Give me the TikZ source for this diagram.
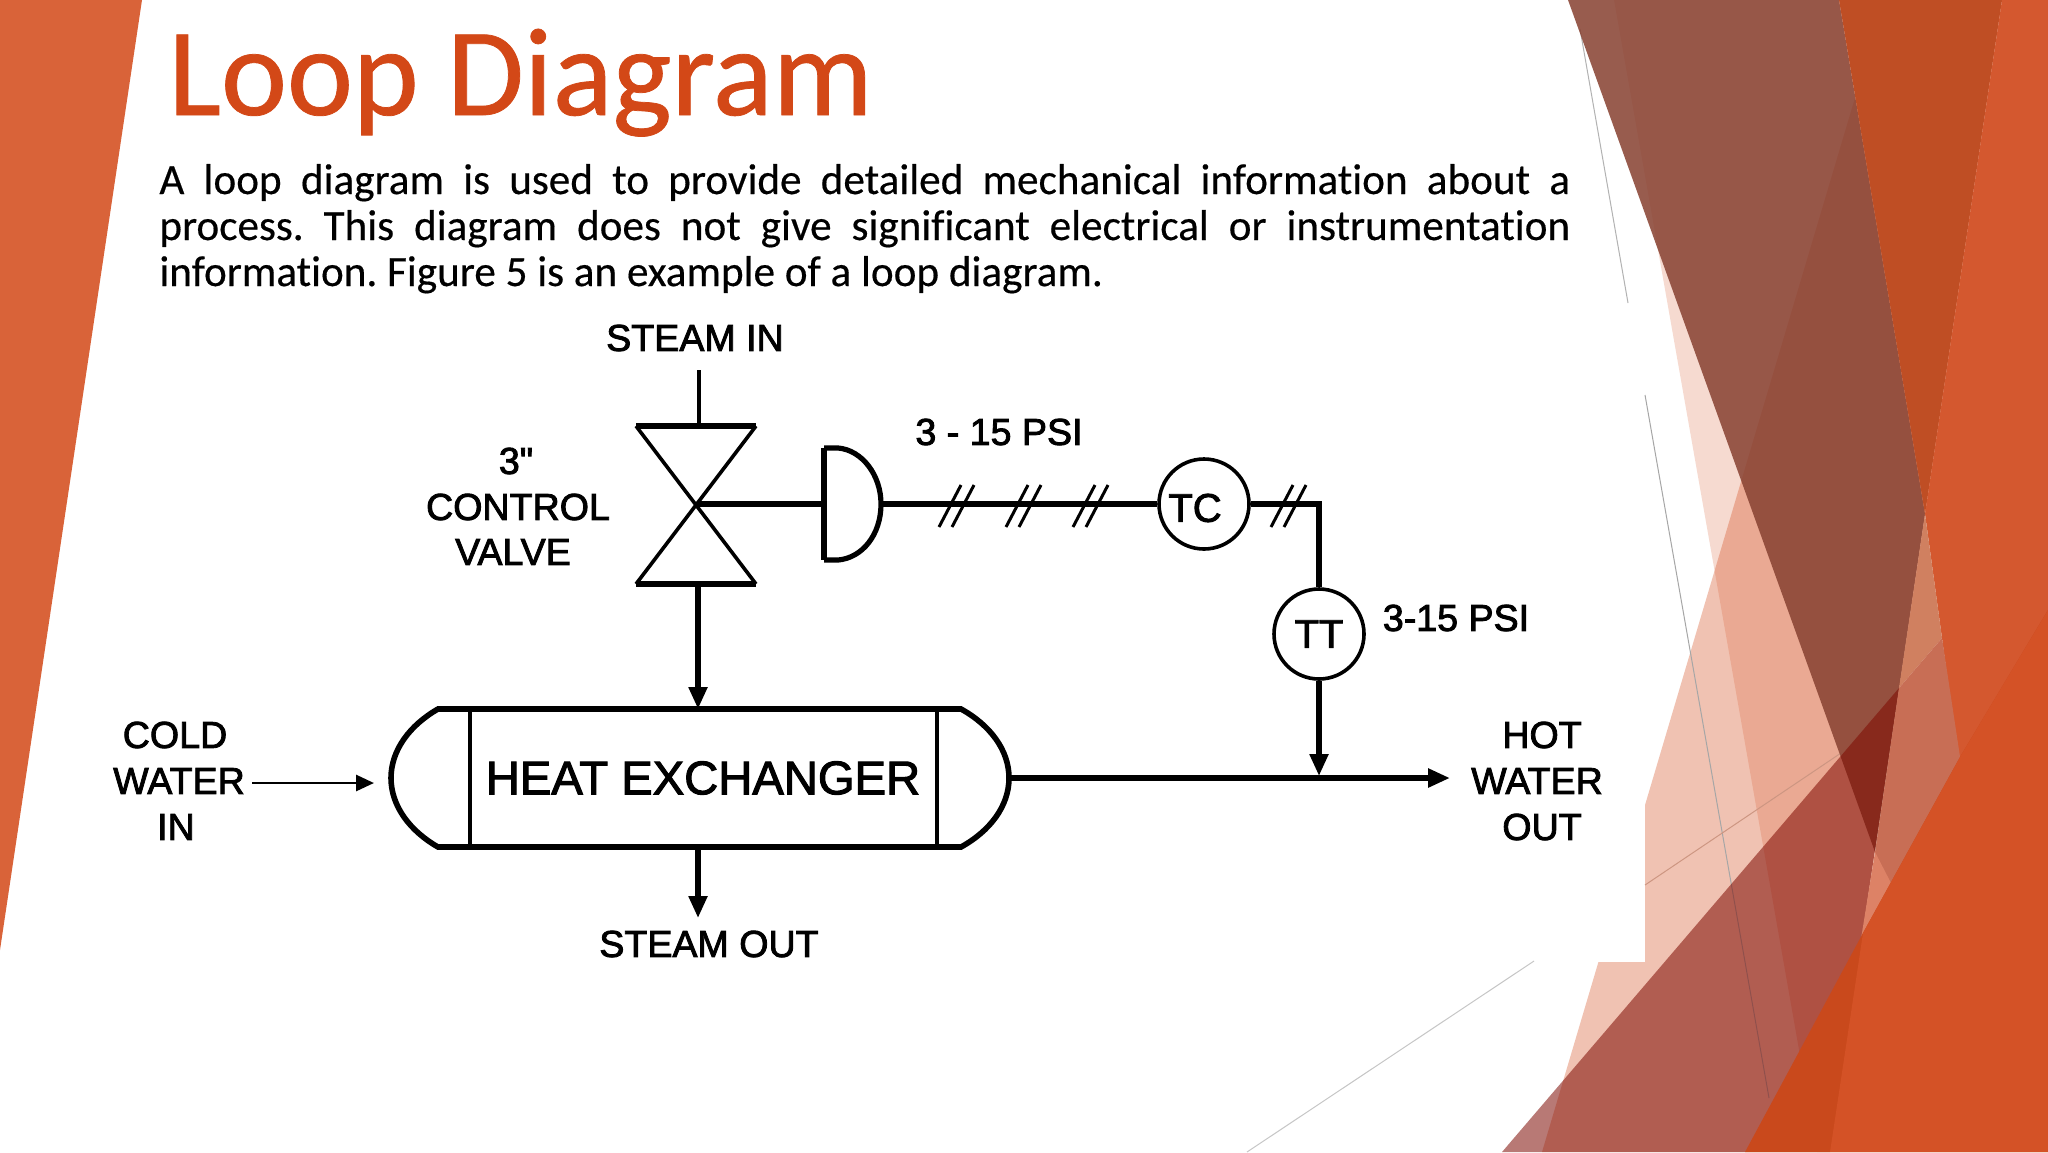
\documentclass[tikz,border=0pt]{standalone}
\usepackage{fontspec}
\setmainfont{Liberation Sans}
\newfontfamily\titlefont{Carlito}[FakeBold=0.6,Ligatures=NoCommon]
\newfontfamily\bodyfont{Carlito}[FakeBold=0.4,Ligatures=NoCommon]
\newfontfamily\figfont{Liberation Sans}[FakeBold=2.2]
\usetikzlibrary{arrows.meta}
\definecolor{titlec}{HTML}{D34817}
\frenchspacing
\tikzset{
  x=0.5pt,y=-0.5pt,
  lab/.style={inner sep=0,font=\figfont\fontsize{18.8}{18.8}\selectfont},
  biglab/.style={inner sep=0,font=\figfont\fontsize{23.6}{23.6}\selectfont},
  inst/.style={circle,draw=black,line width=1.8pt,minimum size=45pt,inner sep=0,fill=white},
  body/.style={anchor=base west,inner sep=0,font=\bodyfont\fontsize{21.6}{21.6}\selectfont},
  heavy/.style={line width=2.6pt,draw=black},
  medium/.style={line width=1.8pt,draw=black},
  arr/.style={-{Triangle[length=11pt,width=9pt]}},
  bg/.style={draw=none},
  hair/.style={line width=0.5pt}
}
\begin{document}
\begin{tikzpicture}
\useasboundingbox (0,0) rectangle (2048,1152);
\fill[white] (0,0) rectangle (2048,1152);
% background shapes
\fill[bg,fill=titlec,opacity=.85] (0,0)--(142,0)--(0,950)--cycle;
\fill[bg,fill=titlec,opacity=.2] (1614,0)--(2002,0)--(1830,1152)--(1817,1152)--cycle;
\fill[bg,fill=titlec,opacity=.33] (1884,0)--(2002,0)--(1830,1152)--(1542,1152)--cycle;
\fill[white] (1000,303) rectangle (1645,962);
\draw[hair,color=gray!60] (1580,29)--(1628,303);
\draw[hair,color=gray!70] (1645,395)--(1769,1098);
\draw[hair,color={rgb,255:red,205;green,150;blue,130}] (1645,885)--(1841,753);
\draw[hair,color=gray!45] (1247,1152)--(1534,961);
\fill[bg,fill={rgb,255:red,136;green,66;blue,50},opacity=.86] (1568,0)--(1839,0)--(1925,514)--(1875,852)--cycle;
\fill[bg,fill={rgb,255:red,125;green,8;blue,0},opacity=.54] (1502,1152)--(1899,688)--(1830,1152)--cycle;
% right hand explicit
\fill[fill={rgb,255:red,191;green,78;blue,36}] (1839,0)--(2002,0)--(1925,514)--cycle;
\fill[fill={rgb,255:red,212;green,88;blue,47}] (2002,0)--(2048,0)--(2048,620)--(1960,770)--(1925,514)--cycle;
\fill[fill={rgb,255:red,208;green,128;blue,96}] (1925,514)--(1942,638)--(1899,688)--cycle;
\fill[fill={rgb,255:red,200;green,110;blue,85}] (1899,688)--(1942,638)--(1962,770)--(1880,900)--(1875,852)--cycle;
\fill[fill={rgb,255:red,221;green,130;blue,102}] (1875,852)--(1892,885)--(1860,945)--cycle;
\fill[fill={rgb,255:red,201;green,73;blue,28}] (1745,1152)--(1863,933)--(1960,757)--(2048,610)--(2048,1152)--cycle;
\fill[fill={rgb,255:red,212;green,82;blue,38}] (1863,933)--(1960,757)--(2048,610)--(2048,1152)--(1830,1152)--cycle;
% title & body
\node[anchor=base west,inner sep=0,text=titlec,font=\titlefont\fontsize{62.6}{62.6}\selectfont] (title) at (168,115) {Loop Diagram};
\node[body] (l1) at (159,194) {\makebox[705.5pt][s]{A loop diagram is used to provide detailed mechanical information about a}};
\node[body] (l2) at (159,240) {\makebox[705.5pt][s]{process. This diagram does not give significant electrical or instrumentation}};
\node[body] (l3) at (159,286) {information. Figure 5 is an example of a loop diagram.};
% diagram
\node[lab] (steamin) at (695,338) {STEAM IN};
\node[lab] (three) at (516,461) {3"};
\node[lab] (control) at (518,507) {CONTROL};
\node[lab] (valve) at (513,552) {VALVE};
\node[lab] (psia) at (999,432) {3 - 15 PSI};
\node[lab] (psib) at (1456,618) {3-15 PSI};
\node[lab] (cold) at (175,735) {COLD};
\node[lab] (waterin) at (179,781) {WATER};
\node[lab] (inn) at (176,827) {IN};
\node[lab] (hot) at (1542,735) {HOT};
\node[lab] (waterout) at (1537,781) {WATER};
\node[lab] (outt) at (1542,827) {OUT};
\node[lab] (steamout) at (709,944) {STEAM OUT};
\coordinate (vc) at (697,504);
\coordinate (vin) at (699,370);
\coordinate (vt) at (699,426);
\coordinate (vb) at (698,584);
\draw[heavy] (636,426)--(756,426);
\draw[heavy] (636,584)--(756,584);
\draw[medium] (636,426)--(756,584);
\draw[medium] (756,426)--(636,584);
\draw[medium] (vin)--(vt);
\node[inst] (tc) at (1204,504) {};
\node[inst] (tt) at (1319,634) {};
\node[inner sep=0,font=\figfont\fontsize{20}{20}\selectfont] (tctxt) at (1195,508) {TC};
\node[inner sep=0,font=\figfont\fontsize{20}{20}\selectfont] (tttxt) at (1319,634) {TT};
% actuator
\coordinate (act) at (824,504);
\coordinate (acr) at (881,504);
\draw[heavy] (824,448)--(824,560);
\draw[heavy] (824,448)--(838,448) .. controls (862,450) and (881,475) .. (acr) .. controls (881,535) and (862,558) .. (838,560)--(824,560);
\draw[line width=3pt] (vc)--(act);
\draw[line width=3pt] (acr)--(tc);
\coordinate (corner) at (1319,504);
\draw[heavy] (tc)--(corner)--(tt);
\foreach \hx in {956,1023,1090,1288}{
  \draw[line width=1.5pt] (\hx+5,485)--(\hx-17,527);
  \draw[line width=1.5pt] (\hx+18,485)--(\hx-4,527);
}
% exchanger
\coordinate (hxl) at (391,778);
\coordinate (hxr) at (1009,778);
\coordinate (htop) at (698,709);
\coordinate (hbot) at (698,847);
\draw[line width=2.8pt] (438,709)--(961,709) .. controls (990,725) and (1009,750) .. (hxr) .. controls (1009,806) and (990,831) .. (961,847)--(438,847) .. controls (410,831) and (391,806) .. (hxl) .. controls (391,750) and (410,725) .. cycle;
\draw[medium] (470,709)--(470,847);
\draw[medium] (937,709)--(937,847);
\node[biglab] (hxt) at (703,778) {HEAT EXCHANGER};
\coordinate (sout) at (698,918);
\draw[heavy,arr] (vb)--(htop);
\draw[heavy,arr] (hbot)--(sout);
\coordinate (cwa) at (252,783);
\coordinate (cwb) at (374,783);
\draw[line width=1.4pt,-{Triangle[length=9pt,width=8pt]}] (cwa)--(cwb);
\coordinate (hwe) at (1450,778);
\coordinate (jn) at (1319,776);
\draw[line width=3pt,-{Triangle[length=11pt,width=9pt]}] (hxr)--(hwe);
\draw[heavy,arr] (tt)--(jn);
\end{tikzpicture}
\end{document}
